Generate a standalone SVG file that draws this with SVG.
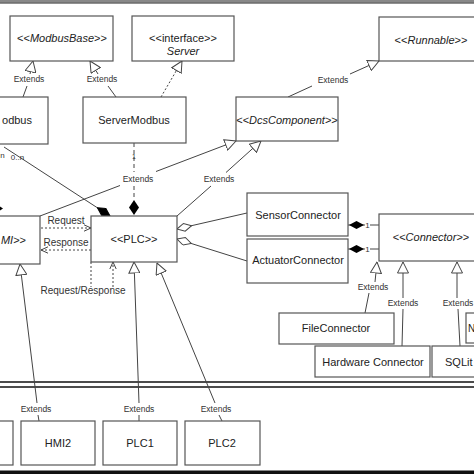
<svg xmlns="http://www.w3.org/2000/svg" width="474" height="474" viewBox="0 0 474 474">
<style>
.box{fill:#fff;stroke:#555;stroke-width:1.2}
.t{font-family:"Liberation Sans",Arial,sans-serif;font-size:11px;fill:#222;text-anchor:middle}
.i{font-style:italic}
.lbl{font-family:"Liberation Sans",Arial,sans-serif;font-size:8.5px;fill:#333;text-anchor:middle}
.sm{font-family:"Liberation Sans",Arial,sans-serif;font-size:10px;fill:#333;text-anchor:middle}
.ln{fill:none;stroke:#444;stroke-width:1}
.gen{marker-end:url(#gen)}
.dot{stroke-dasharray:2,2}
.dash{stroke-dasharray:4,3}
</style>
<defs>
<marker id="gen" viewBox="0 0 12 12" refX="11.5" refY="6" markerWidth="12" markerHeight="12" markerUnits="userSpaceOnUse" orient="auto">
<path d="M0.5,0.5 L11.5,6 L0.5,11.5 Z" fill="#fff" stroke="#444" stroke-width="1"/>
</marker>
<marker id="open" viewBox="0 0 8 8" refX="7.5" refY="4" markerWidth="8" markerHeight="8" markerUnits="userSpaceOnUse" orient="auto">
<path d="M0.5,0.8 L7.5,4 L0.5,7.2" fill="none" stroke="#444" stroke-width="1"/>
</marker>
<marker id="agg" viewBox="0 0 16 9" refX="0.5" refY="4.5" markerWidth="16" markerHeight="9" markerUnits="userSpaceOnUse" orient="auto">
<path d="M0.5,4.5 L8,0.5 L15.5,4.5 L8,8.5 Z" fill="#fff" stroke="#444" stroke-width="1"/>
</marker>
<marker id="comp" viewBox="0 0 16 9" refX="15.5" refY="4.5" markerWidth="16" markerHeight="9" markerUnits="userSpaceOnUse" orient="auto">
<path d="M0.5,4.5 L8,0.5 L15.5,4.5 L8,8.5 Z" fill="#000" stroke="#000" stroke-width="1"/>
</marker>
</defs>
<rect x="0" y="0" width="474" height="474" fill="#fff"/>
<rect x="0" y="0" width="474" height="2.5" fill="#888"/>
<line x1="0" y1="3" x2="474" y2="3" stroke="#222" stroke-width="1.2"/>
<line x1="0" y1="382" x2="474" y2="382" stroke="#111" stroke-width="1.5"/>
<line x1="0" y1="387" x2="474" y2="387" stroke="#111" stroke-width="1.5"/>
<rect x="0" y="470.5" width="474" height="3.5" fill="#111"/>

<g id="connectors">
<path class="ln" d="M23,97 L27,86"/>
<text class="lbl" x="29" y="82">Extends</text>
<path class="ln gen" d="M30,74 L33,61"/>
<path class="ln" d="M116,97 L108,86"/>
<text class="lbl" x="102" y="82">Extends</text>
<path class="ln gen" d="M98,74 L90,61"/>
<path class="ln gen dot" d="M161,97 L182,61"/>
<path class="ln" d="M288,97 L312,86"/>
<text class="lbl" x="333" y="83">Extends</text>
<path class="ln gen" d="M350,74 L379,61"/>
<path class="ln dash" d="M134,143 L134,172"/>
<path class="ln dash" d="M134,186 L134,200"/>
<text class="lbl" x="134" y="159" style="font-size:7px">1</text>
<polygon points="134,200 139,207.5 134,215 129,207.5" fill="#000"/>
<path class="ln" d="M40,216 L120,185.5"/>
<text class="lbl" x="138" y="182">Extends</text>
<path class="ln gen" d="M156,171.5 L236,141"/>
<path class="ln" d="M177,216 L211,186"/>
<text class="lbl" x="219" y="182">Extends</text>
<path class="ln gen" d="M226,172.5 L261,141"/>
<path class="ln" d="M4,147 L110,216" style="marker-end:url(#comp)"/>
<text class="lbl" x="17.5" y="160" style="font-size:8px">0..n</text>
<text class="lbl" x="2.5" y="158" style="font-size:8px">n</text>
<polygon points="-8,208.5 -2,205 3,208.5 -2,212" fill="#000"/>
<path class="ln dot" d="M41,228 L91,228" style="marker-end:url(#open)"/>
<text class="sm" x="66" y="224">Request</text>
<path class="ln dot" d="M91,250 L41,250" style="marker-end:url(#open)"/>
<text class="sm" x="66" y="246">Response</text>
<path class="ln dot" d="M91,262 L91,287"/>
<path class="ln dot" d="M113,287 L113,262" style="marker-end:url(#open)"/>
<text class="sm" x="83" y="294">Request/Response</text>
<path class="ln" d="M39,421 L38,415"/>
<text class="lbl" x="36" y="412">Extends</text>
<path class="ln gen" d="M37,403 L20,264"/>
<path class="ln" d="M139,421 L139,415"/>
<text class="lbl" x="139" y="412">Extends</text>
<path class="ln gen" d="M139,403 L134,262"/>
<path class="ln" d="M222,421 L219,415"/>
<text class="lbl" x="216" y="412">Extends</text>
<path class="ln gen" d="M215,403 L157,263"/>
<path class="ln" d="M177,229 L247,213" style="marker-start:url(#agg)"/>
<path class="ln" d="M177,239 L247,261" style="marker-start:url(#agg)"/>
<path class="ln" d="M348,225 L379,225"/>
<polygon points="349,225 356.5,221 364,225 356.5,229" fill="#000"/>
<rect x="365" y="221" width="5" height="8" fill="#fff"/>
<text class="lbl" x="367.5" y="228" style="font-size:8px">1</text>
<path class="ln" d="M348,249 L379,249"/>
<polygon points="349,249 356.5,245 364,249 356.5,253" fill="#000"/>
<rect x="365" y="245" width="5" height="8" fill="#fff"/>
<text class="lbl" x="367.5" y="252" style="font-size:8px">1</text>
<path class="ln" d="M365,313 L369,293"/>
<text class="lbl" x="373" y="290">Extends</text>
<path class="ln gen" d="M375,282 L377,262"/>
<path class="ln" d="M402,346 L403,309"/>
<text class="lbl" x="403" y="306">Extends</text>
<path class="ln gen" d="M403,298 L403,262"/>
<path class="ln" d="M460,346 L458,309"/>
<text class="lbl" x="458" y="306">Extends</text>
<path class="ln gen" d="M457,298 L457,262"/>
</g>

<g id="ModbusBase"><rect class="box" x="10" y="16" width="103" height="45"/><text class="t" x="62" y="42">&lt;&lt;<tspan class="i">ModbusBase</tspan>&gt;&gt;</text></g>
<g id="Server"><rect class="box" x="132" y="16" width="102" height="45"/><text class="t" x="183" y="42">&lt;&lt;interface&gt;&gt;</text><text class="t i" x="183" y="55">Server</text></g>
<g id="Runnable"><rect class="box" x="379" y="17" width="110" height="44"/><text class="t" x="431" y="44">&lt;&lt;<tspan class="i">Runnable</tspan>&gt;&gt;</text></g>
<g id="ClientModbus"><rect class="box" x="-20" y="97" width="68" height="47"/><text class="t" x="32" y="124" style="text-anchor:end">odbus</text></g>
<g id="ServerModbus"><rect class="box" x="83" y="97" width="103" height="46"/><text class="t" x="134" y="124">ServerModbus</text></g>
<g id="DcsComponent"><rect class="box" x="236" y="97" width="102" height="44"/><text class="t" x="287" y="124">&lt;&lt;<tspan class="i">DcsComponent</tspan>&gt;&gt;</text></g>
<g id="HMI"><rect class="box" x="-20" y="216" width="60" height="48"/><text class="t" x="26" y="244" style="text-anchor:end"><tspan class="i">MI</tspan>&gt;&gt;</text></g>
<g id="PLC"><rect class="box" x="91" y="216" width="86" height="46"/><text class="t" x="134" y="243">&lt;&lt;PLC&gt;&gt;</text></g>
<g id="SensorConnector"><rect class="box" x="247" y="193" width="101" height="43"/><text class="t" x="298" y="219">SensorConnector</text></g>
<g id="ActuatorConnector"><rect class="box" x="247" y="239" width="101" height="44"/><text class="t" x="298" y="264">ActuatorConnector</text></g>
<g id="Connector"><rect class="box" x="379" y="214" width="110" height="47"/><text class="t" x="431" y="241">&lt;&lt;<tspan class="i">Connector</tspan>&gt;&gt;</text></g>
<g id="FileConnector"><rect class="box" x="279" y="313" width="115" height="31"/><text class="t" x="336" y="332">FileConnector</text></g>
<g id="HardwareConnector"><rect class="box" x="315" y="346" width="115" height="31"/><text class="t" x="373" y="366">Hardware Connector</text></g>
<g id="SQLite"><rect class="box" x="432" y="346" width="60" height="31"/><text class="t" x="445" y="366" style="text-anchor:start">SQLit</text></g>
<g id="NBox"><rect class="box" x="466" y="313" width="20" height="30"/><text class="t" x="468" y="332" style="text-anchor:start;font-size:10px">N</text></g>
<g id="LeftBottom"><rect class="box" x="-10" y="421" width="23" height="44"/></g>
<g id="HMI2"><rect class="box" x="21" y="421" width="74" height="44"/><text class="t" x="58" y="447">HMI2</text></g>
<g id="PLC1"><rect class="box" x="103" y="421" width="74" height="44"/><text class="t" x="140" y="447">PLC1</text></g>
<g id="PLC2"><rect class="box" x="185" y="421" width="75" height="44"/><text class="t" x="222" y="447">PLC2</text></g>
</svg>
